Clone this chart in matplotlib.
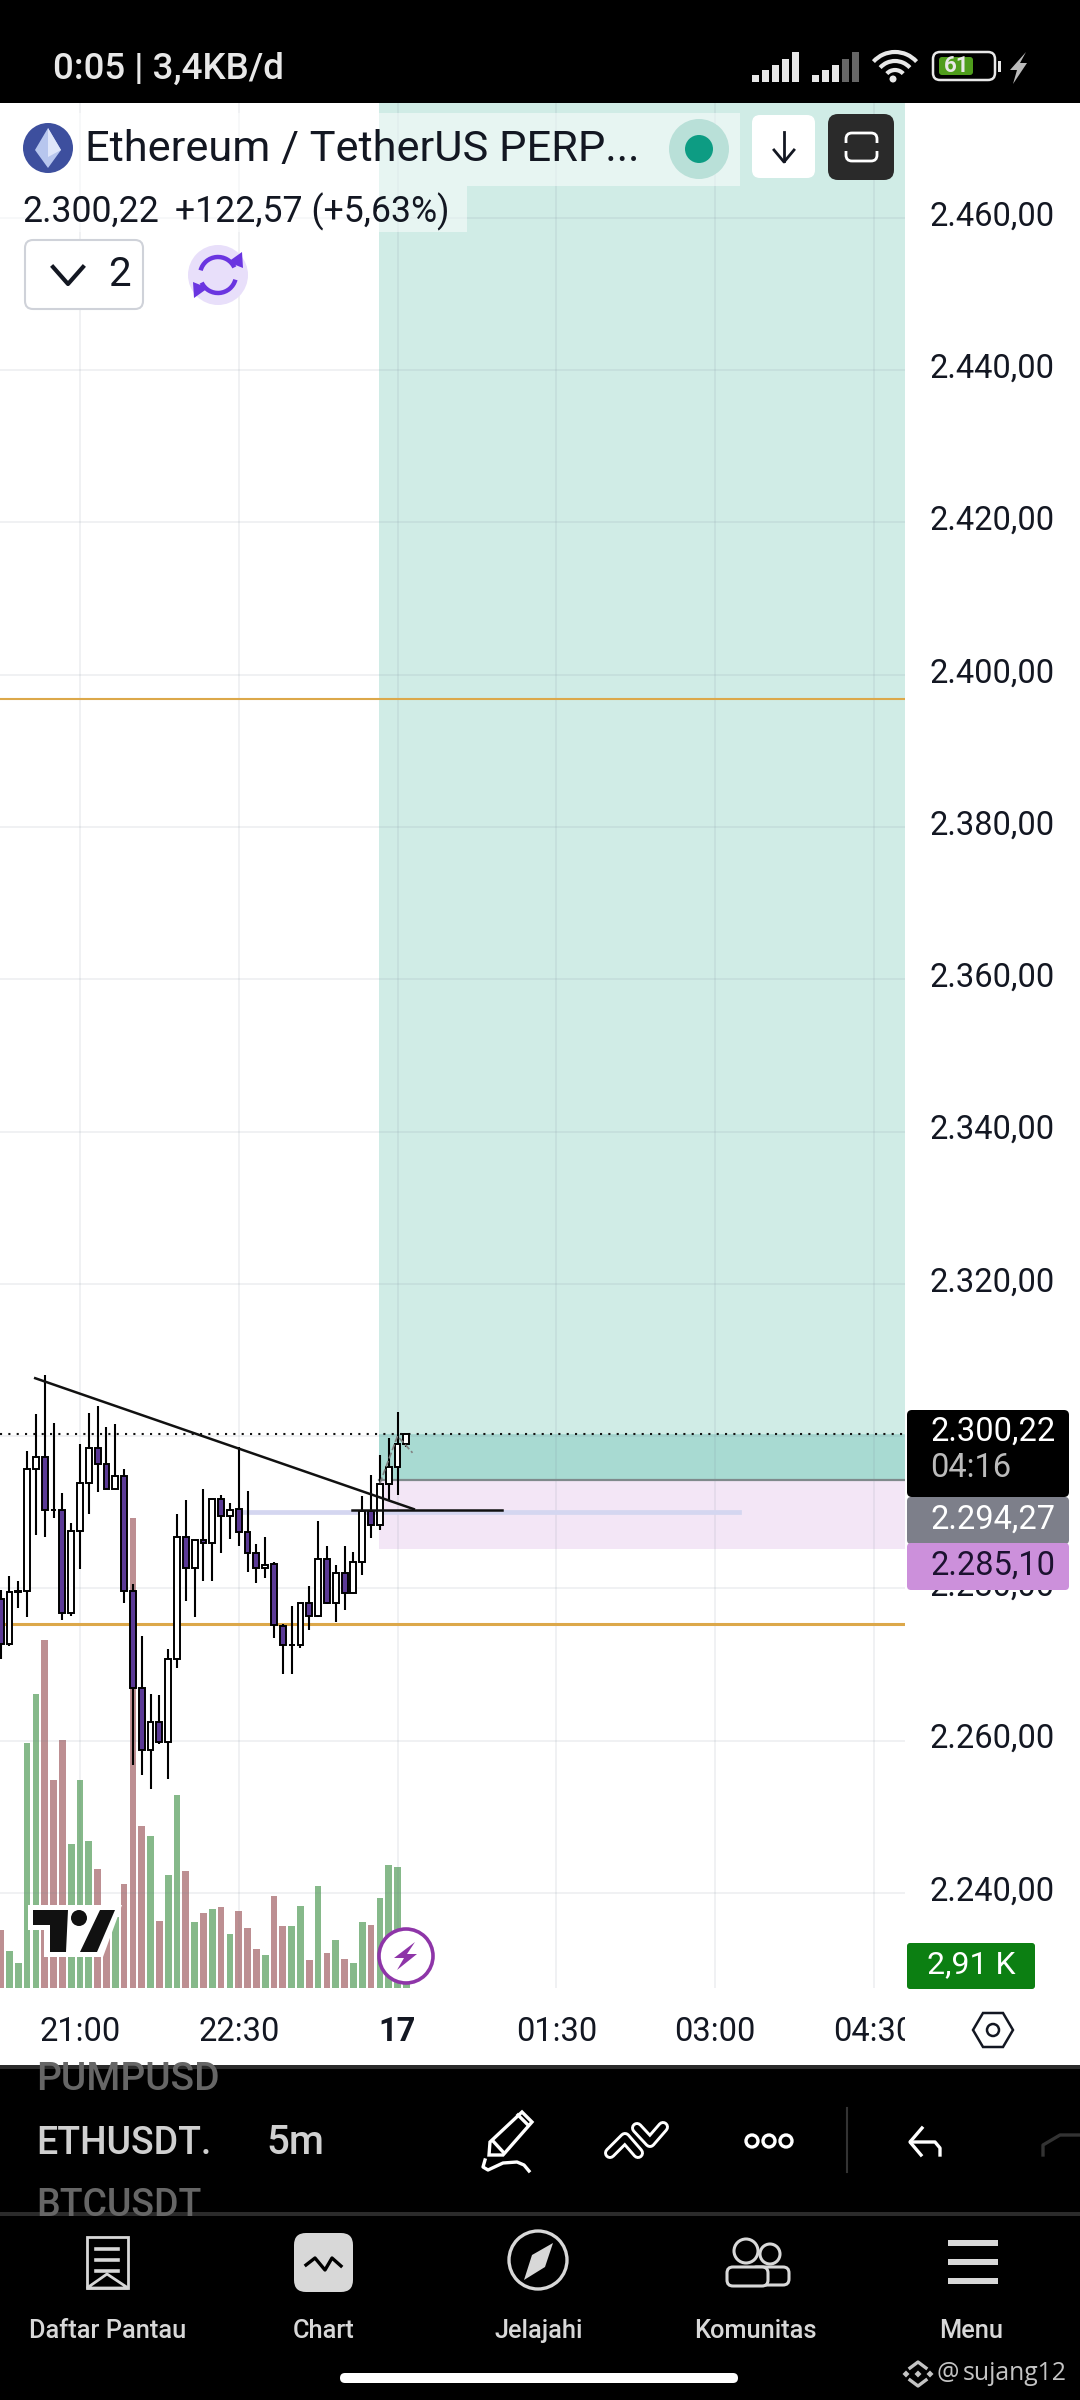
#!/usr/bin/env python3
import matplotlib
matplotlib.use("Agg")
import matplotlib.pyplot as plt
import numpy as np
from matplotlib.patches import Rectangle, FancyBboxPatch, Circle, Polygon, Arc
from matplotlib.transforms import ScaledTranslation

plt.rcParams['font.family'] = ['Roboto', 'DejaVu Sans']

# candles, 5m, index 0 = 21:00
idx = list(range(-9, 38))
opens = [2278.6, 2272.7, 2279.5, 2279.7, 2295.7, 2297.3, 2290.3, 2290.3, 2276.7, 2287.5, 2293.8, 2298.4,
         2296.3, 2293.1, 2294.7, 2279.7, 2266.9, 2258.8, 2262.5, 2259.8, 2270.7, 2286.8, 2282.7, 2286.4,
         2286.0, 2291.7, 2289.5, 2290.4, 2287.4, 2284.6, 2282.7, 2283.2, 2275.1, 2272.5, 2272.5, 2278.1,
         2276.3, 2283.8, 2278.1, 2282.0, 2279.4, 2283.5, 2290.2, 2288.3, 2293.7, 2296.0, 2298.9]
closes = [2272.7, 2279.5, 2279.7, 2295.7, 2297.3, 2290.3, 2290.3, 2276.7, 2287.5, 2293.8, 2298.4, 2296.3,
          2293.1, 2294.7, 2279.7, 2266.9, 2258.8, 2262.5, 2259.8, 2270.7, 2286.8, 2282.7, 2286.4, 2286.0,
          2291.7, 2289.5, 2290.3, 2287.4, 2284.6, 2282.7, 2283.1, 2275.2, 2272.5, 2272.5, 2278.1, 2276.3,
          2283.8, 2278.1, 2282.0, 2279.4, 2283.4, 2290.2, 2288.3, 2293.7, 2296.0, 2298.9, 2300.22]
highs = [2279.8, 2281.6, 2281.0, 2298.1, 2302.9, 2308.0, 2301.7, 2292.5, 2288.6, 2299.0, 2303.0, 2304.0,
         2301.2, 2301.6, 2295.7, 2280.6, 2273.8, 2266.1, 2266.0, 2272.0, 2289.8, 2291.6, 2286.4, 2293.0,
         2291.7, 2292.3, 2291.2, 2298.5, 2292.8, 2285.8, 2286.8, 2283.5, 2275.3, 2277.7, 2278.1, 2280.3,
         2288.8, 2285.6, 2283.0, 2285.6, 2284.8, 2292.1, 2294.9, 2297.5, 2299.7, 2303.1, 2300.3]
lows = [2270.7, 2272.4, 2277.4, 2276.2, 2287.0, 2286.8, 2289.2, 2275.8, 2276.3, 2282.6, 2289.7, 2292.6,
        2293.1, 2293.1, 2278.1, 2256.8, 2255.5, 2253.6, 2259.5, 2255.0, 2269.5, 2278.3, 2276.2, 2281.0,
        2280.9, 2284.6, 2286.5, 2285.6, 2282.1, 2280.7, 2281.3, 2273.5, 2268.7, 2268.7, 2272.1, 2274.5,
        2276.2, 2278.0, 2275.6, 2277.1, 2279.4, 2281.8, 2286.6, 2287.6, 2291.6, 2292.3, 2298.5]
# volume in K
volumes = [7.3, 4.6, 3.2, 30.9, 37.0, 43.9, 26.2, 31.3, 18.2, 26.2, 18.5, 15.0, 8.9, 8.9, 13.1, 59.2,
           20.4, 19.1, 8.4, 14.3, 24.3, 14.8, 8.3, 9.5, 9.9, 10.2, 6.8, 9.7, 7.5, 4.9, 4.2, 11.6,
           7.8, 7.8, 10.3, 3.5, 12.9, 4.4, 6.1, 3.7, 3.2, 8.3, 8.0, 11.3, 15.5, 15.3, 2.91]
vol_up = [0, 1, 1, 1, 1, 0, 0, 0, 1, 1, 1, 0, 0, 1, 0, 0, 0, 1, 0, 1, 1, 0, 1, 0, 1, 0, 1, 0, 0, 0, 1, 0,
          0, 1, 1, 0, 1, 0, 1, 0, 1, 1, 0, 1, 1, 1, 1]

price_ticks = [2460, 2440, 2420, 2400, 2380, 2360, 2340, 2320, 2300, 2280, 2260, 2240]
price_labels = ['2.460,00', '2.440,00', '2.420,00', '2.400,00', '2.380,00', '2.360,00', '2.340,00',
                '2.320,00', '', '2.280,00', '2.260,00', '2.240,00']
time_ticks = [0, 18, 36, 54, 72, 90]
time_labels = ['21:00', '22:30', '17', '01:30', '03:00', '04:30']

last_price = 2300.22
entry_price = 2294.27
stop_price = 2285.10
level_hi = 2396.8
level_lo = 2275.3

PURPLE = '#5b3a96'
TXT = '#131722'
W, H = 1080, 2400
fig = plt.figure(figsize=(10.8, 24), dpi=100, facecolor='white')
rect = [0, 1 - 1988 / H, 905 / W, (1988 - 103) / H]
x_lim = (-9.07, 93.54)

# volume pane sits under the price pane
ax_vol = fig.add_axes(rect)
ax_vol.set_xlim(*x_lim)
ax_vol.set_ylim(0, 237.5)
ax_vol.axis('off')
ax_vol.bar(idx, volumes, width=0.76, color=['#86b98a' if u else '#bd8f92' for u in vol_up], zorder=2)

ax = fig.add_axes(rect)
ax.patch.set_alpha(0)
ax.set_xlim(*x_lim)
ax.set_ylim(2227.5, 2475.1)
for s in ax.spines.values():
    s.set_visible(False)
ax.yaxis.tick_right()
ax.set_yticks(price_ticks)
ax.set_yticklabels(price_labels, fontsize=23.5, color=TXT, va='center')
ax.set_xticks(time_ticks)
ax.set_xticklabels(time_labels, fontsize=23.5, color=TXT)
ax.get_xticklabels()[2].set_fontweight('bold')
ax.tick_params(axis='both', length=0)
ax.tick_params(axis='y', pad=18)
ax.tick_params(axis='x', pad=20)
ax.grid(color='#6f7f8f', alpha=0.12, lw=1.2, zorder=0)
ax.set_axisbelow(True)
nudge = ScaledTranslation(0, 1.5 / 100, fig.dpi_scale_trans)
for lab in ax.get_yticklabels():
    lab.set_transform(lab.get_transform() + nudge)

# long position zones, under the grid
zone_x = [33.9, x_lim[1]]
ax.fill_between(zone_x, entry_price, 2475.1, color='#d0ece6', lw=0, zorder=0.2)
ax.fill_between(zone_x, entry_price, last_price, color='#a8dad2', lw=0, zorder=0.3)
ax.fill_between(zone_x, stop_price, entry_price, color='#f3e6f6', lw=0, zorder=0.2)
ax.plot(zone_x, [entry_price, entry_price], color='#7f8a8c', lw=1.6, zorder=1.2)

ax.axhline(level_hi, color='#dca84a', lw=1.5, zorder=2)
ax.axhline(level_lo, color='#dca84a', lw=2.2, zorder=2)
ax.axhline(last_price, color='#111111', lw=1.5, ls=(0, (1, 3)), zorder=2)
ax.plot([18.4, 74.7], [2290.0, 2290.0], color='#d4d6f0', lw=3.4, zorder=2)

ax.vlines(idx, lows, highs, color='black', lw=1.5, zorder=3)
body_colors = ['white' if c >= o else PURPLE for o, c in zip(opens, closes)]
ax.bar(idx, np.array(closes) - np.array(opens), bottom=opens, width=0.66, color=body_colors,
       edgecolor='black', lw=1.4, zorder=4)

# drawings
ax.plot([-5.08, 37.85], [2307.6, 2290.4], color='#111111', lw=1.8, zorder=5)
ax.plot([30.8, 47.9], [2290.3, 2290.3], color='#111111', lw=1.8, zorder=5)
ax.plot([34.0, 36.0, 37.7], [2293.8, 2300.0, 2297.8], color='#808080', lw=1.2, ls='--', zorder=5)

# app chrome in pixel coords
ui = fig.add_axes([0, 0, 1, 1], zorder=10)
ui.set_xlim(0, W)
ui.set_ylim(H, 0)
ui.axis('off')


def box(x0, y0, x1, y1, fc, r=0, ec='none', lw=0):
    if r:
        p = FancyBboxPatch((x0 + r, y0 + r), x1 - x0 - 2 * r, y1 - y0 - 2 * r,
                           boxstyle=f'round,pad={r}', fc=fc, ec=ec, lw=lw)
    else:
        p = Rectangle((x0, y0), x1 - x0, y1 - y0, fc=fc, ec=ec, lw=lw)
    ui.add_patch(p)
    return p


def txt(x, y, s, size, color='white', ha='left', **kw):
    return ui.text(x, y, s, fontsize=size, color=color, ha=ha, va='center', **kw)


box(0, 0, W, 103, 'black')
box(905, 1988, 930, 2067, 'white')
box(0, 2067, W, H, 'black')
box(0, 2065, W, 2069, '#2b2b2b')
box(0, 2212, W, 2216, '#2b2b2b')

# status bar
txt(53, 69, '0:05 | 3,4KB/d', 26.5, '#e8e8e8', fontweight='medium')
for x0 in [752, 812]:
    for i, h in enumerate([7, 12, 17, 23, 30]):
        c = '#666666' if (x0 == 812 and i > 2) else '#e8e8e8'
        box(x0 + i * 10, 82 - h, x0 + i * 10 + 6.5, 82, c)
for r in [29, 20, 11]:
    ui.add_patch(Arc((895, 81), 2 * r, 2 * r, theta1=222, theta2=318, color='#e8e8e8', lw=3))
ui.add_patch(Circle((893, 79), 3.5, fc='#e8e8e8'))
box(933, 52, 995, 80, 'black', r=7, ec='#e8e8e8', lw=1.8)
box(939, 57, 973, 75, '#4f9d1c', r=3)
txt(957, 66, '61', 16, '#e8e8e8', ha='center', fontweight='bold')
box(998, 61, 1001, 72, '#e8e8e8')
ui.add_patch(Polygon([[1026, 52], [1010, 70], [1017, 70], [1013, 84], [1027, 63], [1020, 63]], fc='#bbbbbb'))

# legend strip
box(0, 113, 740, 186, (1, 1, 1, 0.5))
box(0, 186, 467, 232, (1, 1, 1, 0.5))
ui.add_patch(Circle((48, 148), 25, fc='#3d4f9e'))
ui.add_patch(Polygon([[48, 128], [61, 150], [48, 168], [35, 150]], fc='#b7c6ee'))
ui.add_patch(Polygon([[48, 128], [61, 150], [48, 157]], fc='#dfe6fa'))
txt(85, 150, 'Ethereum / TetherUS PERP...', 31.2, TXT)
txt(22, 212, '2.300,22', 25.7, TXT)
txt(175, 212, '+122,57 (+5,63%)', 25.7, TXT)
ui.add_patch(Circle((699, 149), 30, fc='#b9e0d8'))
ui.add_patch(Circle((699, 149), 14, fc='#0d9c83'))
box(752, 115, 815, 178, 'white', r=8)
ui.plot([784, 784], [132, 161], color=TXT, lw=2)
ui.plot([774, 784, 794], [150, 162, 150], color=TXT, lw=2)
box(828, 114, 894, 180, '#2a2a2a', r=10)
box(846, 133, 877, 161, '#2a2a2a', r=6, ec='white', lw=2)
box(842, 143, 881, 151, '#2a2a2a')
box(25, 240, 143, 309, 'white', r=8, ec='#cfd2d9', lw=1.5)
ui.plot([53, 68, 83], [267, 284, 267], color=TXT, lw=3)
txt(119, 274, '2', 29, TXT, ha='center')
ui.add_patch(Circle((218, 275), 30, fc='#e8dffa'))
ui.add_patch(Arc((218, 275), 36, 36, theta1=195, theta2=335, color='#6a35e0', lw=3.2))
ui.add_patch(Arc((218, 275), 36, 36, theta1=15, theta2=155, color='#6a35e0', lw=3.2))
ui.add_patch(Polygon([[228, 262], [243, 268], [242, 252]], fc='#6a35e0'))
ui.add_patch(Polygon([[208, 288], [193, 282], [194, 298]], fc='#6a35e0'))

# price labels
box(907, 1410, 1069, 1497, 'black', r=5)
txt(930, 1432, '2.300,22', 23.5, 'white')
txt(930, 1468, '04:16', 23.5, '#bbbbbb')
box(907, 1497, 1069, 1544, '#7d7f8a', r=4)
txt(930, 1520, '2.294,27', 23.5, 'white')
box(907, 1543, 1069, 1590, '#cc90db', r=4)
txt(930, 1566, '2.285,10', 23.5, '#1c1230')
box(907, 1943, 1035, 1989, '#0c7f12', r=3)
txt(971, 1965, '2,91 K', 23, 'white', ha='center')

# watermark logo and lightning button
ui.add_patch(Polygon([[28, 1905], [122, 1905], [103, 1957], [44, 1957], [44, 1930], [28, 1930]], fc='white'))
ui.add_patch(Polygon([[33, 1910], [68, 1910], [66, 1952], [50, 1952], [50, 1925], [33, 1925]], fc='#111111'))
ui.add_patch(Circle((79, 1918), 8, fc='#111111'))
ui.add_patch(Polygon([[100, 1910], [115, 1910], [97, 1952], [80, 1952]], fc='#111111'))
ui.add_patch(Circle((406, 1956), 27, fc='white', ec='#8e35a8', lw=2.6))
ui.add_patch(Polygon([[415, 1942], [394, 1958], [404, 1958], [397, 1970], [417, 1954], [407, 1954]], fc='#8e35a8'))

# settings hexagon on time axis
ui.add_patch(Polygon([[973, 2030], [983, 2013], [1003, 2013], [1013, 2030], [1003, 2047], [983, 2047]],
                     fc='white', ec=TXT, lw=1.8))
ui.add_patch(Circle((993, 2030), 6, fc='white', ec=TXT, lw=1.8))

# toolbar
pump = txt(36, 2080, 'PUMPUSD', 28, '#666666', fontweight='medium')
pump.set_clip_path(Rectangle((0, 2069), 217, 60, transform=ui.transData))
btc = txt(36, 2206, 'BTCUSDT', 27, '#666666', fontweight='medium')
btc.set_clip_path(Rectangle((0, 2160), 217, 52, transform=ui.transData))
txt(36, 2143, 'ETHUSDT.', 27, '#d0d0d0', fontweight='medium')
txt(266, 2143, '5m', 29, '#d0d0d0', fontweight='medium')
# pencil
ui.add_patch(Polygon([[522, 2112], [532, 2122], [503, 2155], [489, 2155], [490, 2142]], fc='black', ec='white', lw=2.4))
ui.plot([493, 504], [2141, 2153], color='white', lw=2.4)
ui.plot([518, 528], [2115, 2125], color='white', lw=2.4)
ui.plot([485, 483, 488, 503, 517, 524, 529], [2160, 2167, 2170, 2163, 2162, 2165, 2171], color='white', lw=2.4)
# trend tool
for xs, ys in [([610, 625, 638], [2153, 2138, 2153]), ([637, 650, 663], [2128, 2142, 2127])]:
    ui.plot(xs, ys, color='white', lw=8.6, solid_capstyle='round')
    ui.plot(xs, ys, color='black', lw=4.4, solid_capstyle='round')
for cx in [752, 769, 786]:
    ui.add_patch(Circle((cx, 2141), 6, fc='black', ec='white', lw=2.4))
ui.plot([847, 847], [2108, 2172], color='#333333', lw=1.5)
ui.plot([922, 910, 921], [2128, 2142, 2155], color='white', lw=2.4)
ui.plot([911, 935, 940, 940], [2142, 2142, 2148, 2155], color='white', lw=2.4)
ui.plot([1043, 1043, 1060, 1080], [2155, 2145, 2135, 2135], color='#333333', lw=2.4)

# bottom nav
box(87, 2237, 128, 2288, 'black', ec='#d8d8d8', lw=2)
ui.add_patch(Polygon([[87, 2288], [107, 2274], [128, 2288]], fc='black', ec='#d8d8d8', lw=2))
for yy in [2249, 2260, 2271]:
    ui.plot([96, 118], [yy, yy], color='#d8d8d8', lw=2.6)
box(294, 2233, 353, 2292, '#d8d8d8', r=12)
ui.plot([306, 315, 325, 332, 341], [2265, 2258, 2270, 2258, 2266], color='black', lw=2.4)
ui.add_patch(Circle((538, 2260), 29, fc='black', ec='#d8d8d8', lw=2.4))
ui.add_patch(Polygon([[553, 2243], [545, 2267], [524, 2280], [532, 2255]], fc='#d8d8d8'))
ui.add_patch(Circle((746, 2251), 12, fc='black', ec='#d8d8d8', lw=2.2))
ui.add_patch(Circle((770, 2254), 10, fc='black', ec='#d8d8d8', lw=2.2))
box(751, 2267, 789, 2285, 'black', r=6, ec='#d8d8d8', lw=2.2)
box(727, 2267, 768, 2286, 'black', r=6, ec='#d8d8d8', lw=2.2)
for yy in [2243, 2262, 2281]:
    box(948, yy - 3, 998, yy + 3, '#d8d8d8')
for x, lab in [(108, 'Daftar Pantau'), (324, 'Chart'), (539, 'Jelajahi'), (755, 'Komunitas'), (971, 'Menu')]:
    txt(x, 2331, lab, 18.3, '#d8d8d8', ha='center', fontweight='medium')

box(340, 2373, 738, 2383, 'white', r=5)
# binance style mark
WM = '#c4c4c4'
for cx, cy in [(918, 2374), (906, 2374), (930, 2374)]:
    ui.add_patch(Polygon([[cx, cy - 3.5], [cx + 3.5, cy], [cx, cy + 3.5], [cx - 3.5, cy]], fc=WM))
ui.plot([910, 918, 926], [2368, 2362, 2368], color=WM, lw=2.4)
ui.plot([910, 918, 926], [2380, 2386, 2380], color=WM, lw=2.4)
txt(937, 2374, '@', 18, WM, family='Open Sans')
txt(963, 2374, 'sujang12', 17.8, WM, family='Open Sans')

fig.savefig('out.png', dpi=100, facecolor='white')
